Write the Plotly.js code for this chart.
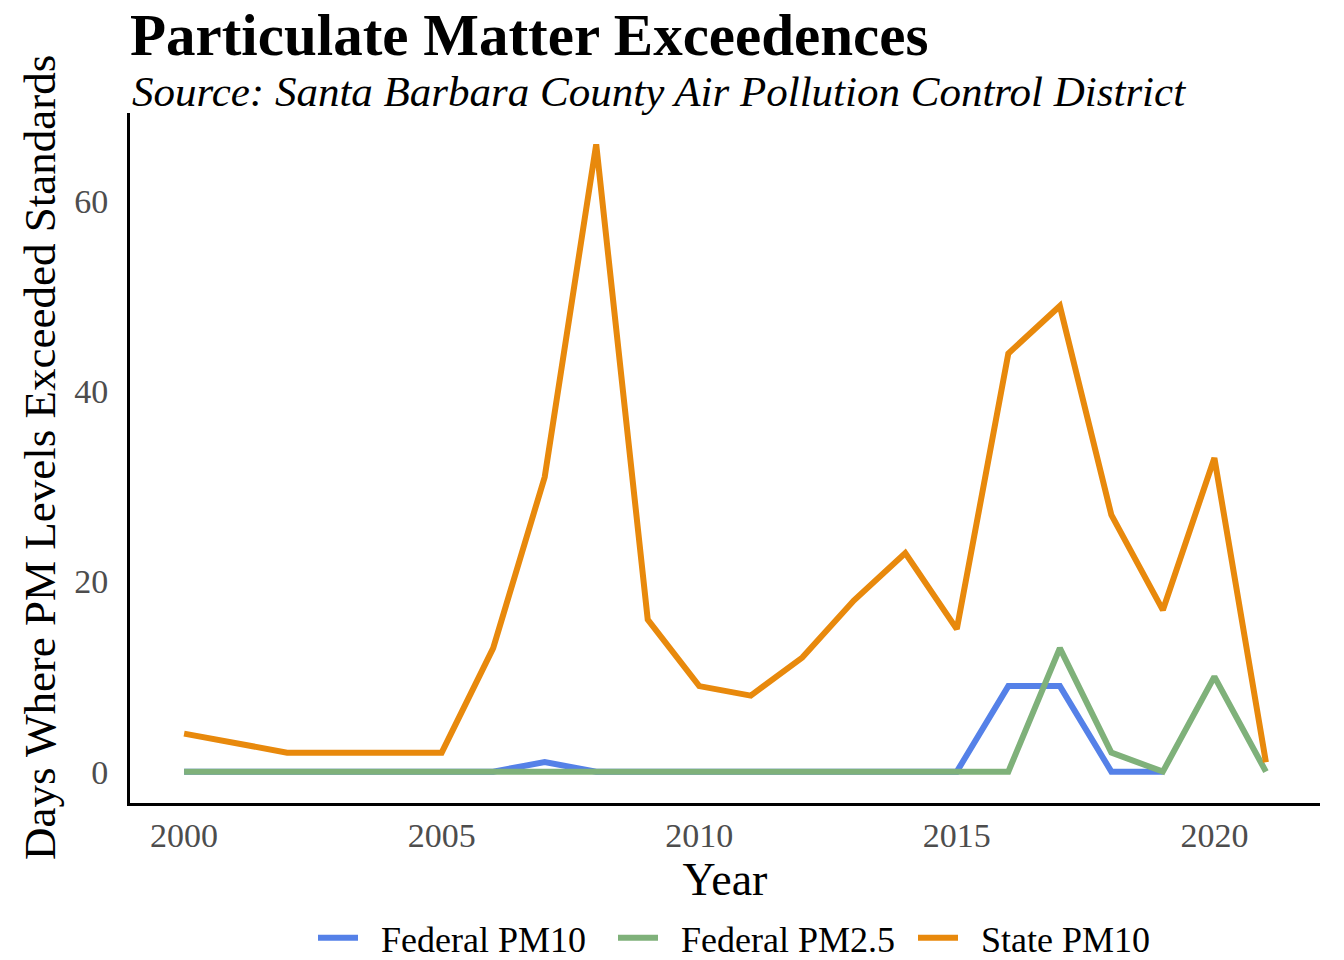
<!DOCTYPE html>
<html>
<head>
<meta charset="utf-8">
<script src="https://cdn.plot.ly/plotly-3.0.1.min.js"></script>
<style>html,body{margin:0;padding:0;background:#fff;}#chart{width:1344px;height:960px;}</style>
</head>
<body>
<div id="chart"></div>
<script>
const years = [2000,2001,2002,2003,2004,2005,2006,2007,2008,2009,2010,2011,2012,2013,2014,2015,2016,2017,2018,2019,2020,2021];
const federalPM10 = [0,0,0,0,0,0,0,1,0,0,0,0,0,0,0,0,9,9,0,0,null,null];
const federalPM25 = [0,0,0,0,0,0,0,0,0,0,0,0,0,0,0,0,0,13,2,0,10,0];
const statePM10 = [4,3,2,2,2,2,13,31,66,16,9,8,12,18,23,15,44,49,27,17,33,1];
const seriesNames = ["Federal PM10","Federal PM2.5","State PM10"];
const seriesColors = ["#5581E8","#7FB17A","#E8890C"];
const yTicks = [0,20,40,60];
const xTicks = [2000,2005,2010,2015,2020];

const font = "Liberation Serif, Times New Roman, serif";
const data = [federalPM10, federalPM25, statePM10].map((v,i)=>({
  x: years, y: v, type: "scatter", mode: "lines", name: "\u2002" + seriesNames[i],
  line: {color: seriesColors[i], width: 6}, connectgaps: false
}));

const layout = {
  width: 1344, height: 960,
  paper_bgcolor: "#fff", plot_bgcolor: "#fff",
  margin: {l: 130, r: 24, t: 113, b: 157, autoexpand: false},
  font: {family: font, color: "#000"},
  showlegend: true,
  legend: {orientation: "h", x: (313 - 130) / 1190, xanchor: "left", y: -0.239, yanchor: "bottom",
           font: {size: 36, family: font, color: "#000"}, itemwidth: 40, entrywidth: 245, tracegroupgap: 0},
  xaxis: {
    range: [1998.95, 2022.05], tickvals: xTicks, ticktext: xTicks.map(String),
    showgrid: false, zeroline: false, showline: true, linecolor: "#000", linewidth: 3,
    ticks: "", tickfont: {size: 34, color: "#4D4D4D", family: font},
    title: {text: "Year", font: {size: 46, color: "#000", family: font}, standoff: 4}
  },
  yaxis: {
    range: [-3.3, 69.3], tickvals: yTicks, ticktext: yTicks.map(String),
    showgrid: false, zeroline: false, showline: true, linecolor: "#000", linewidth: 3,
    ticks: "outside", ticklen: 12, tickcolor: "rgba(0,0,0,0)", tickfont: {size: 34, color: "#4D4D4D", family: font}
  },
  title: {text: "<b>Particulate Matter Exceedences</b>", x: 130/1344, xanchor: "left", xref: "container",
          y: 0.986, yanchor: "top", yref: "container", font: {size: 59, family: font, color: "#000"}},
  annotations: [{
    text: "<i>Source: Santa Barbara County Air Pollution Control District</i>",
    xref: "paper", yref: "paper", x: 0, xanchor: "left", y: 1, yanchor: "bottom", yshift: -4,
    showarrow: false, font: {size: 43, family: font, color: "#000"}
  }, {
    text: "Days Where PM Levels Exceeded Standards",
    xref: "paper", yref: "paper", x: (40 - 130) / 1190, xanchor: "center", y: 0.5, yanchor: "middle",
    textangle: -90, showarrow: false, font: {size: 45, family: font, color: "#000"}
  }]
};
Plotly.newPlot("chart", data, layout, {displayModeBar: false});
</script>
</body>
</html>
